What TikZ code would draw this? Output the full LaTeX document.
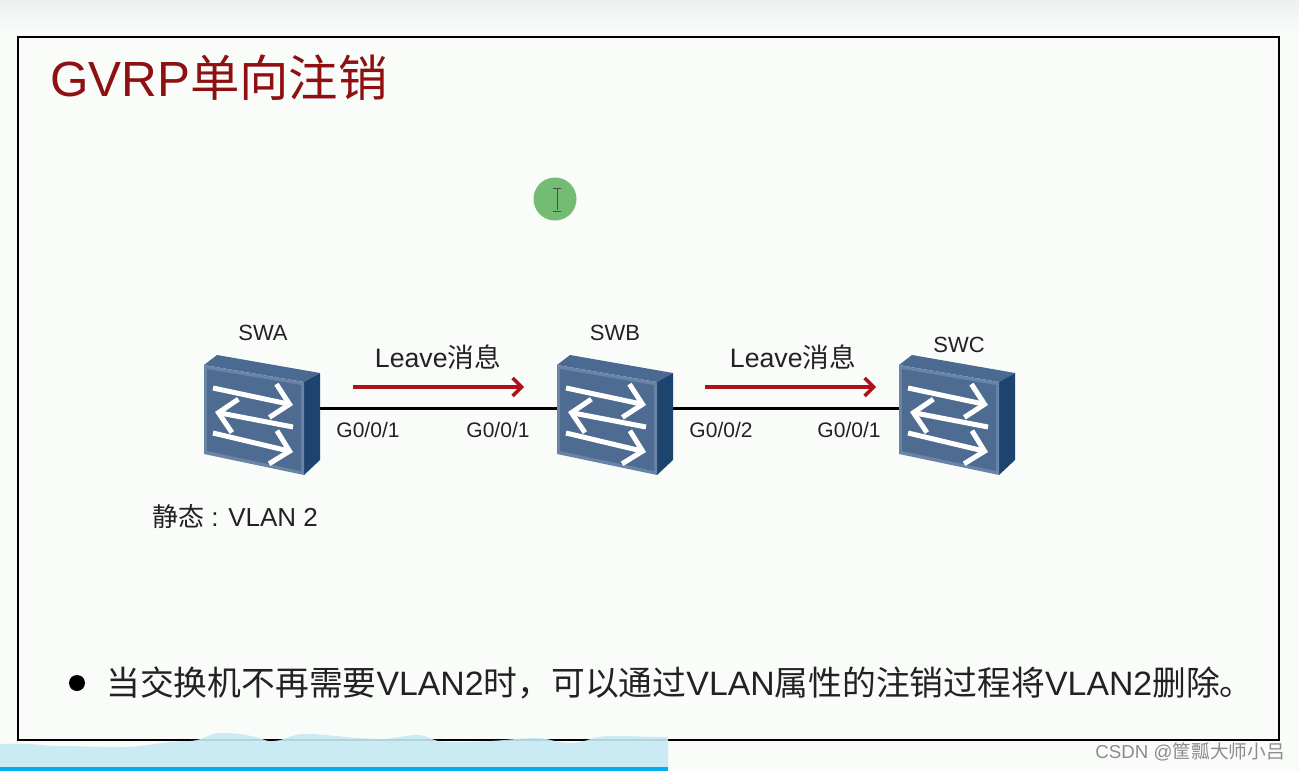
\documentclass[tikz,border=0pt]{standalone}
\usepackage{fontspec}
\setmainfont{Liberation Sans}
\newfontfamily\cjk{Noto Sans CJK SC}
\usetikzlibrary{arrows.meta}
\definecolor{pagebg}{HTML}{F9FCF9}
\definecolor{topbg}{HTML}{EDF0EE}
\definecolor{titlered}{HTML}{8E1010}
\definecolor{msgred}{HTML}{B01018}
\definecolor{inktext}{HTML}{222222}
\definecolor{swfront}{HTML}{4E6B92}
\definecolor{swedge}{HTML}{6A84A6}
\definecolor{swtop}{HTML}{4A6A92}
\definecolor{swside}{HTML}{1D436F}
\definecolor{bandblue}{HTML}{C5EAF4}
\definecolor{stripblue}{HTML}{00AEEF}
\definecolor{cursorgreen}{HTML}{74BC74}
\tikzstyle{device} = [rectangle, minimum width=116pt, minimum height=80pt, inner sep=0pt]
\tikzstyle{devname} = [font=\fontsize{22}{24}\selectfont, text=inktext]
\tikzstyle{port} = [font=\fontsize{21}{24}\selectfont, text=inktext]
\tikzstyle{msg} = [font=\fontsize{26.7}{30}\selectfont, text=inktext]
\tikzstyle{link} = [draw, black, line width=3pt]
\tikzstyle{leave} = [draw, msgred, line width=3.5pt, -{Straight Barb[length=9pt,width=18pt,line width=3.5pt]}]
\tikzstyle{whitearrow} = [draw, white, line width=5pt, -{Straight Barb[length=17pt,width=34pt,line width=5pt]}]
\tikzset{switch icon/.pic={
    \begin{scope}[shift={(-58,-43)}]
    \fill [swtop] (0,0) -- (13,-10) -- (116,8) -- (100,17) -- cycle;
    \fill [swside] (100,17) -- (116,8) -- (116,95) -- (100,110) -- cycle;
    \fill [swedge] (0,0) -- (100,17) -- (100,110) -- (0,89) -- cycle;
    \fill [swfront] (3,4) -- (97,20) -- (97,106) -- (3,86) -- cycle;
    \draw [whitearrow] (9,23) -- (89,40);
    \draw [whitearrow] (89,62) -- (11,47);
    \draw [whitearrow] (9,68) -- (89,87);
    \end{scope}
}}
\begin{document}
\begin{tikzpicture}[x=1pt, y=-1pt]
    \useasboundingbox (0,0) rectangle (1299,771);
    % Background
    \fill [pagebg] (0,0) rectangle (1299,771);
    \fill [top color=topbg, bottom color=pagebg] (0,0) rectangle (1299,32);
    \draw [black, line width=2.5pt] (18,37) rectangle (1279,740);
    \node [anchor=west, inner sep=0pt, text=titlered, font=\fontsize{49.4}{52}\selectfont] (title) at (50,78) {GVRP{\cjk 单向注销}};
    % Mouse cursor
    \node [circle, fill=cursorgreen, minimum size=43pt, inner sep=0pt] (cursor) at (555,199) {};
    \draw [black!70, line width=1pt] (557,189) -- (557,210) (553,188) -- (561,188) (553,211) -- (561,211);

    % Place nodes
    \node [device] (swa) at (262,408) {};
    \node [device, right of=swa, node distance=353pt] (swb) {};
    \node [device, right of=swb, node distance=342pt] (swc) {};
    \node [devname] (swaname) at (263,333) {SWA};
    \node [devname] (swbname) at (615,333) {SWB};
    \node [devname] (swcname) at (959,345) {SWC};
    \node [port] (p1) at (368,430) {G0/0/1};
    \node [port] (p2) at (498,430) {G0/0/1};
    \node [port] (p3) at (721,430) {G0/0/2};
    \node [port] (p4) at (849,430) {G0/0/1};
    \node [msg] (msg1) at (438,357) {Leave{\cjk 消息}};
    \node [msg] (msg2) at (793,357) {Leave{\cjk 消息}};
    \node [anchor=west, inner sep=0pt, text=inktext, font=\fontsize{26}{30}\selectfont] (state) at (152,517) {{\cjk 静态} : VLAN 2};
    \coordinate (leave1a) at (353,387);
    \coordinate (leave1b) at (524,387);
    \coordinate (leave2a) at (705,387);
    \coordinate (leave2b) at (876,387);

    % Draw edges
    \path [link] (swa) -- (swb);
    \path [link] (swb) -- (swc);
    \path [leave] (leave1a) -- (leave1b);
    \path [leave] (leave2a) -- (leave2b);
    \pic at (swa) {switch icon};
    \pic at (swb) {switch icon};
    \pic at (swc) {switch icon};

    % Bottom text
    \node [circle, fill=black, minimum size=16pt, inner sep=0pt] (dot) at (77,683) {};
    \node [anchor=west, inner sep=0pt, text=inktext, font=\fontsize{33.8}{36}\selectfont] (note) at (106,683) {{\cjk 当交换机不再需要}VLAN2{\cjk 时，可以通过}VLAN{\cjk 属性的注销过程将}VLAN2{\cjk 删除。}};
    % Lower band
    \fill [bandblue, opacity=.9] (0,744) .. controls (30,743) and (40,745) .. (54,746)
        .. controls (80,746) and (100,747) .. (125,747) .. controls (150,746) and (165,741) .. (190,741)
        .. controls (205,740) and (210,733) .. (219,733) .. controls (240,733) and (250,735) .. (268,741)
        .. controls (285,742) and (290,734) .. (304,734) .. controls (330,734) and (340,738) .. (380,739)
        .. controls (395,739) and (405,735) .. (417,735) .. controls (428,735) and (430,741) .. (446,742)
        .. controls (490,743) and (515,738) .. (536,738) .. controls (550,738) and (555,743) .. (571,743)
        .. controls (590,742) and (590,736) .. (612,736) .. controls (630,736) and (650,737) .. (668,737)
        -- (668,771) -- (0,771) -- cycle;
    \fill [stripblue] (0,767) rectangle (668,771);
    \node [anchor=east, inner sep=0pt, text=black!45, font=\fontsize{18.7}{20}\selectfont] (mark) at (1285,752) {CSDN @{\cjk 筐瓢大师小吕}};
\end{tikzpicture}
\end{document}
